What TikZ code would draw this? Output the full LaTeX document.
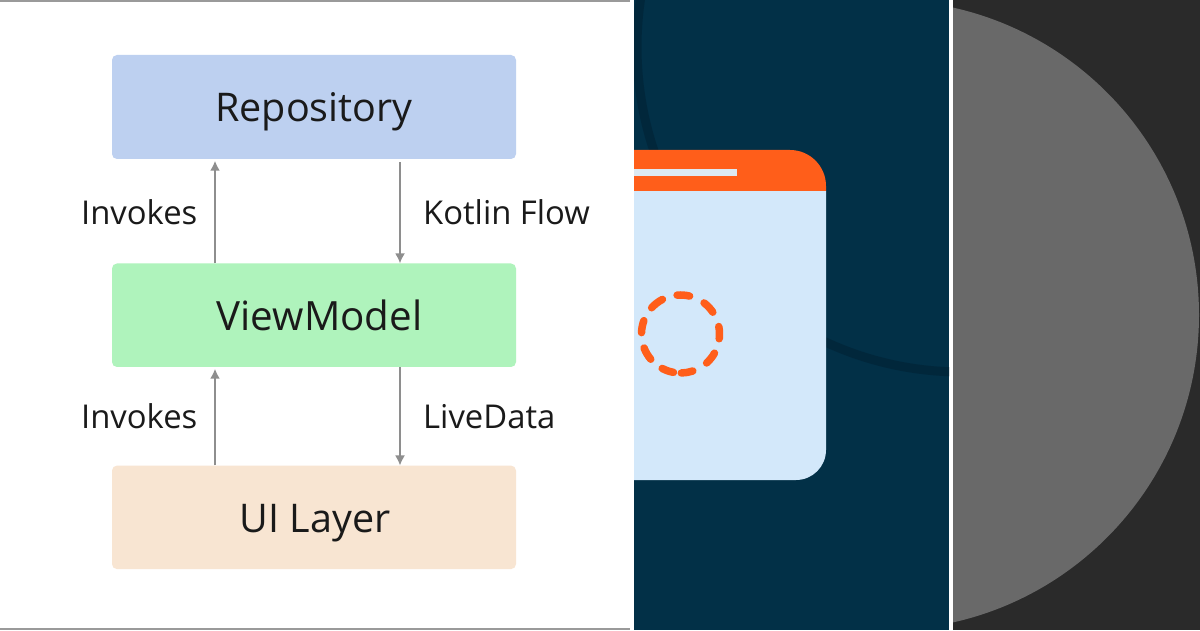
\documentclass[tikz,border=0pt]{standalone}
\usepackage{fontspec}
\setmainfont{Open Sans}
\usetikzlibrary{arrows.meta}
\definecolor{panelnavy}{HTML}{023047}
\definecolor{ringnavy}{HTML}{01273B}
\definecolor{cardblue}{HTML}{D3E8FA}
\definecolor{cardorange}{HTML}{FF5E1A}
\definecolor{barpale}{HTML}{DDE9F2}
\definecolor{darkpanel}{HTML}{2A2A2A}
\definecolor{greydisc}{HTML}{696969}
\definecolor{rulegrey}{HTML}{9A9A9A}
\definecolor{arrowgrey}{HTML}{8E8E8E}
\definecolor{inkblack}{HTML}{1A1A1A}
\definecolor{boxblue}{HTML}{BDD0F0}
\definecolor{boxgreen}{HTML}{AFF3BC}
\definecolor{boxpeach}{HTML}{F8E5D2}
\tikzset{
  layerbox/.style={rectangle,rounded corners=5pt,minimum width=404pt,inner sep=0pt,
    text height=40pt,text depth=10pt,text=inkblack,font=\fontsize{39.5}{39.5}\selectfont},
  edgelabel/.style={inner sep=0pt,text=inkblack,anchor=base west,font=\fontsize{32.8}{32.8}\selectfont},
  uparrow/.style={draw=arrowgrey,line width=2pt,-{Latex[length=10pt,width=10pt]},shorten >=1.5pt},
  downarrow/.style={draw=arrowgrey,line width=1.5pt,-{Latex[length=10pt,width=10pt]}},
  dashpiece/.style={draw=cardorange,line width=7.5pt,line cap=round}
}
\begin{document}
\begin{tikzpicture}[x=1pt,y=1pt]
\useasboundingbox (0,0) rectangle (1200,630);
% panels
\fill[white] (0,0) rectangle (1200,630);
\fill[rulegrey] (0,628) rectangle (630,630);
\fill[rulegrey] (0,0) rectangle (630,2);
\fill[panelnavy] (634,0) rectangle (949,630);
\fill[darkpanel] (953,0) rectangle (1200,630);
\begin{scope}
  \clip (953,0) rectangle (1200,630);
  \fill[greydisc] (884,315) circle[radius=315];
\end{scope}
\begin{scope}
  \clip (634,0) rectangle (949,630);
  \draw[ringnavy,line width=9pt] (962,583) circle[radius=325];
\end{scope}
% card
\fill[cardblue] (634,150) -- (796,150) arc[start angle=-90,end angle=0,radius=30] -- (826,439) -- (634,439) -- cycle;
\fill[cardorange] (634,439) -- (826,439) -- (826,444) arc[start angle=0,end angle=90,radius=36] -- (634,480) -- cycle;
\fill[barpale] (634,454) rectangle (737,461);
% dashed ring
\foreach \a/\b in {95/76.5,52.8/34,11/-7,-29.4/-48,-71.6/-88.8,-100.4/-118,-139.7/-159,178/160,137.7/117.6}{
  \draw[dashpiece] ({680.5+39*cos(\a)},{296+39*sin(\a)}) arc[start angle=\a,end angle=\b,radius=39];
}
% diagram
\node[layerbox,fill=boxblue,minimum height=104pt] (repo) at (314,523) {Repository};
\node[layerbox,fill=boxgreen,minimum height=103.5pt] (vm) at (314,314.75) {\hspace*{11pt}\fontsize{40.3}{40.3}\selectfont ViewModel};
\node[layerbox,fill=boxpeach,minimum height=103.5pt] (ui) at (314,112.65) {\hspace*{2pt}UI Layer};
\coordinate (upx) at (215,0);
\coordinate (downx) at (400,0);
\draw[uparrow] (vm.north -| upx) -- (repo.south -| upx);
\draw[downarrow] ([yshift=-3pt]repo.south -| downx) -- (vm.north -| downx);
\draw[uparrow] (ui.north -| upx) -- (vm.south -| upx);
\draw[downarrow] (vm.south -| downx) -- (ui.north -| downx);
\node[edgelabel] (inv1) at (81,405) {Invokes};
\node[edgelabel] (flow) at (423,405) {Kotlin Flow};
\node[edgelabel] (inv2) at (81,201) {Invokes};
\node[edgelabel] (live) at (423,201) {LiveData};
\end{tikzpicture}
\end{document}
